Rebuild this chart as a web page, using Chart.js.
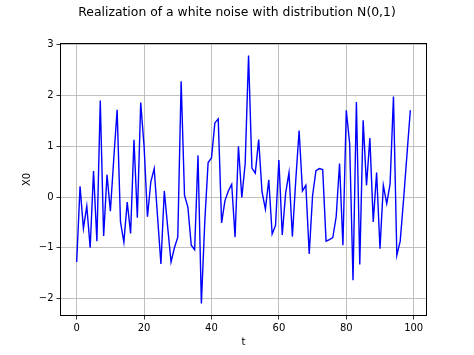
<!DOCTYPE html>
<html><head><meta charset="utf-8">
<script src="https://cdn.jsdelivr.net/npm/chart.js@4/dist/chart.umd.min.js"></script>
<style>html,body{margin:0;padding:0;background:#fff}#c{display:block}</style>
</head><body>
<div style="width:474px;height:355px"><canvas id="c" width="474" height="355"></canvas></div>
<script>
const titleText = "Realization of a white noise with distribution N(0,1)";
const xLabel = "t";
const yLabel = "X0";
const tValues = Array.from({length: 100}, (_, i) => i);
const x0Values = [
 -1.28, 0.21, -0.62, -0.18, -1.00, 0.51, -0.87, 1.90, -0.77, 0.44,
 -0.28, 0.75, 1.72, -0.49, -0.89, -0.10, -0.72, 1.13, -0.41, 1.86,
 1.00, -0.39, 0.30, 0.56, -0.39, -1.32, 0.12, -0.59, -1.28, -1.00,
 -0.79, 2.28, 0.03, -0.20, -0.95, -1.04, 0.82, -2.10, -0.50, 0.68,
 0.77, 1.46, 1.54, -0.51, -0.07, 0.12, 0.25, -0.79, 1.00, -0.01,
 0.66, 2.79, 0.57, 0.47, 1.13, 0.10, -0.24, 0.34, -0.73, -0.56,
 0.73, -0.75, 0.07, 0.48, -0.78, 0.32, 1.31, 0.12, 0.23, -1.12,
 0.03, 0.52, 0.56, 0.54, -0.87, -0.84, -0.80, -0.39, 0.66, -0.95,
 1.71, 1.05, -1.64, 1.87, -1.33, 1.51, 0.23, 1.16, -0.49, 0.48,
 -1.02, 0.23, -0.13, 0.26, 1.98, -1.15, -0.87, -0.05, 0.83, 1.71
];
const xTicks = [0, 20, 40, 60, 80, 100];
const yTicks = [-2, -1, 0, 1, 2, 3];

const fmt = v => (v < 0 ? "\u2212" + Math.abs(v) : String(v));
const FONT = "'DejaVu Sans', sans-serif";

const framePlugin = {
  id: 'frame',
  afterDraw(chart) {
    const {ctx, chartArea: a, width} = chart;
    ctx.save();
    ctx.strokeStyle = '#000';
    ctx.lineWidth = 1;
    ctx.strokeRect(Math.round(a.left) + 0.5, Math.round(a.top) + 0.5,
                   Math.round(a.right - a.left) - 1, Math.round(a.bottom - a.top) - 1);
    ctx.fillStyle = '#000';
    ctx.font = "12.4px " + FONT;
    ctx.textAlign = 'center';
    ctx.textBaseline = 'middle';
    ctx.fillText(titleText, width / 2, 13);
    ctx.restore();
  }
};

new Chart(document.getElementById('c'), {
  type: 'line',
  data: {
    datasets: [{
      data: tValues.map((t, i) => ({x: t, y: x0Values[i]})),
      borderColor: '#0000ff',
      borderWidth: 1.4,
      pointRadius: 0,
      tension: 0,
      fill: false
    }]
  },
  options: {
    responsive: false,
    animation: false,
    layout: {padding: {left: 0, right: 47, top: 43, bottom: 0}},
    plugins: {
      legend: {display: false},
      tooltip: {enabled: false},
      title: {display: false}
    },
    scales: {
      x: {
        type: 'linear', min: -4.95, max: 103.95,
        afterBuildTicks: s => { s.ticks = xTicks.map(v => ({value: v})); },
        afterFit: s => { s.height = 39; },
        ticks: {color: '#000', font: {family: FONT, size: 10}, padding: 3, maxRotation: 0,
                callback: v => fmt(v)},
        grid: {color: '#b0b0b0', lineWidth: 0.8, tickColor: '#000', tickLength: 3.5, tickWidth: 0.8},
        border: {display: false},
        title: {display: true, text: xLabel, color: '#000', font: {family: FONT, size: 10},
                padding: {top: 0, bottom: 7}}
      },
      y: {
        type: 'linear', min: -2.345, max: 3.035,
        afterBuildTicks: s => { s.ticks = yTicks.map(v => ({value: v})); },
        afterFit: s => { s.width = 60; },
        ticks: {color: '#000', font: {family: FONT, size: 10}, padding: 3,
                callback: v => fmt(v)},
        grid: {color: '#b0b0b0', lineWidth: 0.8, tickColor: '#000', tickLength: 3.5, tickWidth: 0.8},
        border: {display: false},
        title: {display: true, text: yLabel, color: '#000', font: {family: FONT, size: 10},
                padding: {top: 21, bottom: 0}}
      }
    }
  },
  plugins: [framePlugin]
});
</script>
</body></html>
